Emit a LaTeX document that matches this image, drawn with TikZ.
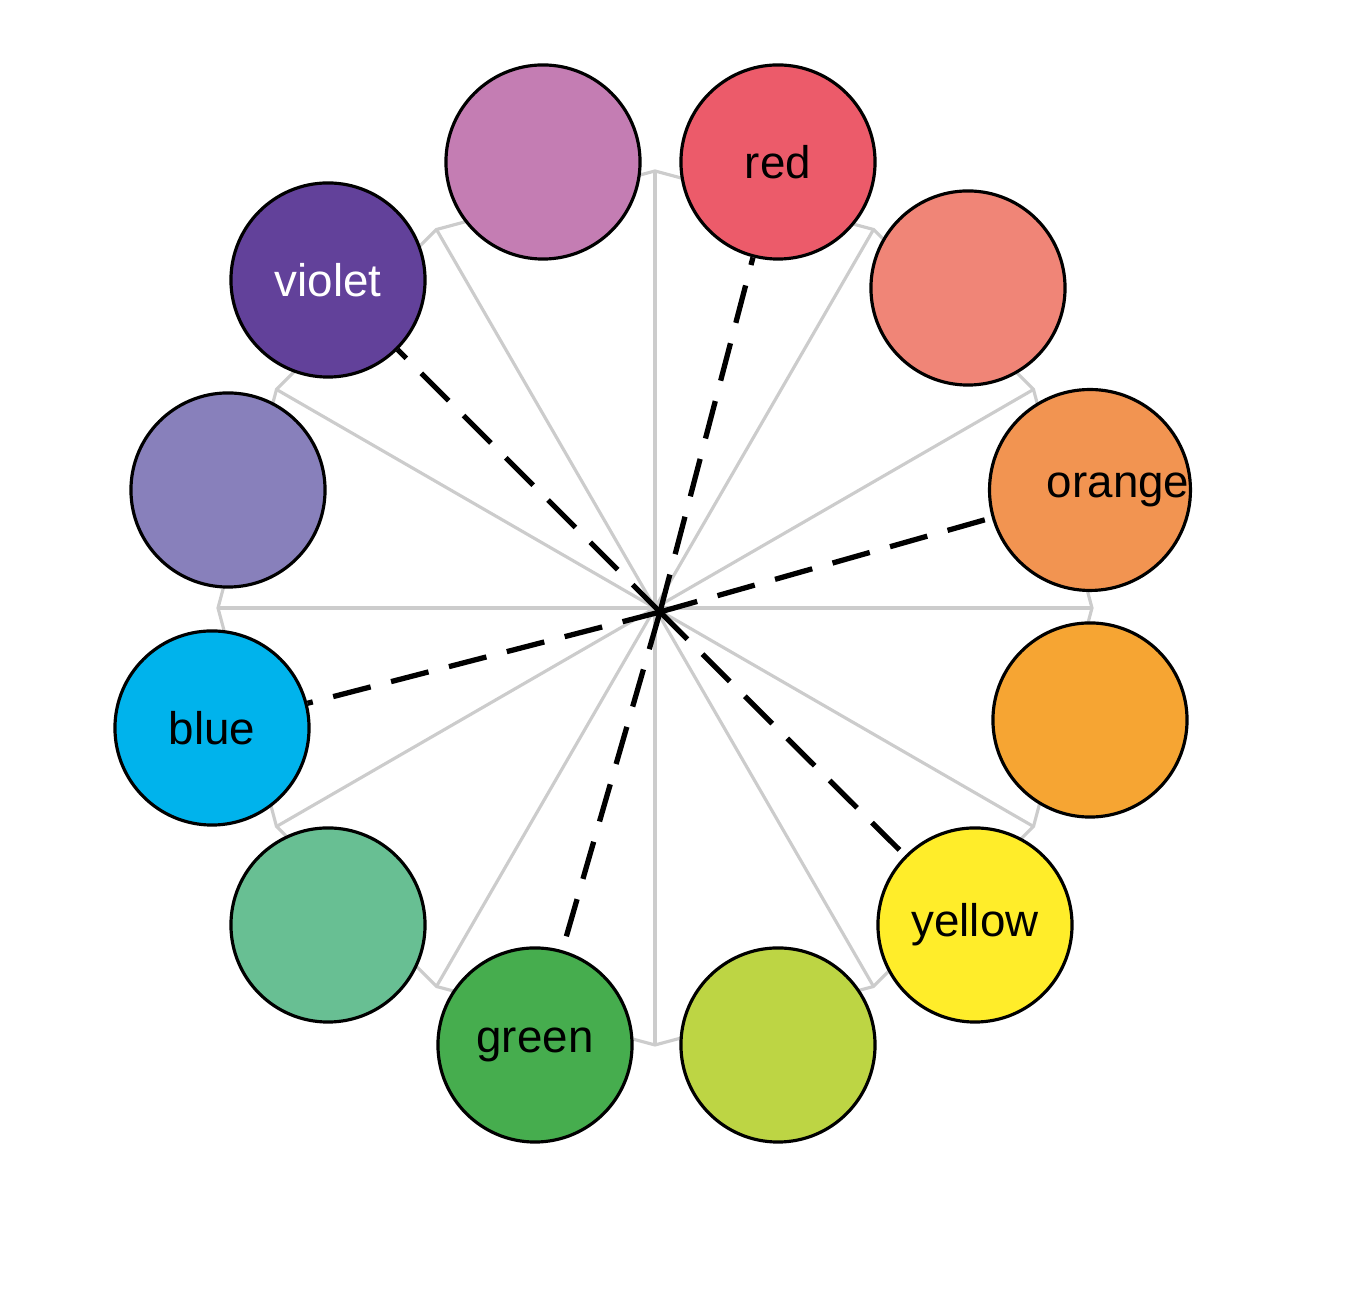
\documentclass[tikz,border=0pt]{standalone}
\usepackage{fontspec}
\setmainfont{Liberation Sans}
\begin{document}
\begin{tikzpicture}[x=0.01cm,y=-0.01cm,
  col/.style={circle,draw=black,line width=0.9pt,minimum size=1.94cm,inner sep=0pt,font=\fontsize{13}{15}\selectfont},
  spoke/.style={draw=black!20,line width=0.9pt},
  dashln/.style={draw=black,line width=1.5pt,dash pattern=on 11pt off 6pt}]
\useasboundingbox (0,0) rectangle (1356,1298);
\coordinate (c) at (655,608);
\foreach \a in {0,30,...,330}{
  \draw[spoke] (c) -- ++(\a:437);
}
\draw[spoke] (1092,608) -- (1033.5,389.5) -- (873.5,229.5) -- (655,171) -- (436.5,229.5) -- (276.5,389.5) -- (218,608) -- (276.5,826.5) -- (436.5,986.5) -- (655,1045) -- (873.5,986.5) -- (1033.5,826.5) -- cycle;
\definecolor{c1}{HTML}{EC5B6A}\definecolor{c2}{HTML}{F08577}\definecolor{c3}{HTML}{F29451}
\definecolor{c4}{HTML}{F6A533}\definecolor{c5}{HTML}{FFED2A}\definecolor{c6}{HTML}{BDD544}
\definecolor{c7}{HTML}{46AD4E}\definecolor{c8}{HTML}{68BF93}\definecolor{c9}{HTML}{00B3EC}
\definecolor{c10}{HTML}{8880BB}\definecolor{c11}{HTML}{62419A}\definecolor{c12}{HTML}{C47DB3}
\node[col,fill=c1] (red) at (778,162) {red};
\node[col,fill=c2] (salmon) at (968,288) {};
\node[col,fill=c3] (orange) at (1090,490) {\hspace{16pt}orange};
\node[col,fill=c4] (orange2) at (1090,720) {};
\node[col,fill=c5] (yellow) at (975,925) {yellow};
\node[col,fill=c6] (yg) at (778,1045) {};
\node[col,fill=c7] (green) at (535,1045) {green};
\node[col,fill=c8] (teal) at (328,925) {};
\node[col,fill=c9] (blue) at (212,728) {blue};
\node[col,fill=c10] (peri) at (228,490) {};
\node[col,fill=c11,text=white] (violet) at (328,280) {violet};
\node[col,fill=c12] (purple) at (543,162) {};
\coordinate (cc) at (660,612);
\foreach \n in {red,orange,yellow,green,blue,violet}{\draw[dashln] (cc) -- (\n);}
\end{tikzpicture}
\end{document}
